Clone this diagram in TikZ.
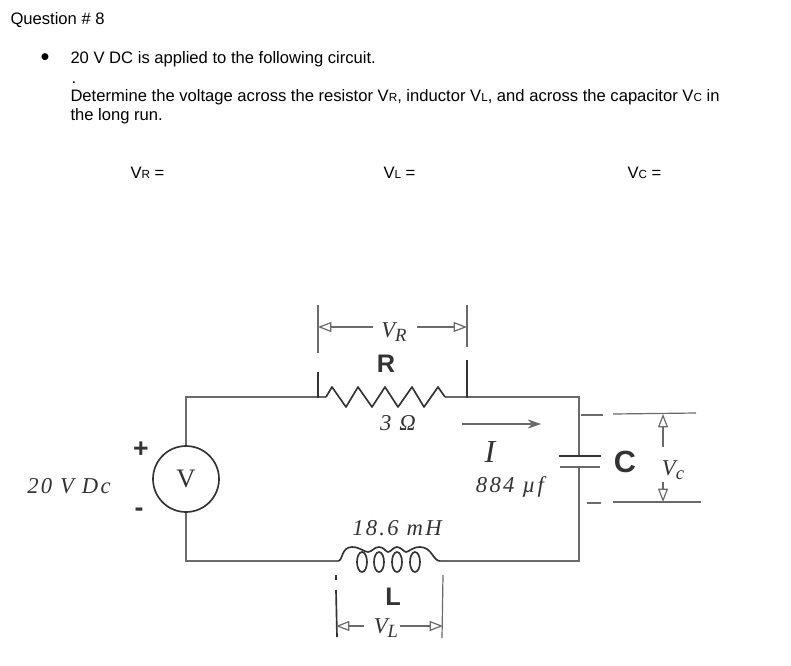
\documentclass[tikz,border=0pt]{standalone}
\usepackage{fontspec}
\usepackage{tikz}
\usepackage{xcolor}
\setmainfont{Liberation Sans}
\newfontfamily\handfont[LetterSpace=10]{Liberation Serif}
\usetikzlibrary{arrows.meta}
\newcommand{\lowsub}[1]{{\fontsize{8.8}{8.8}\selectfont #1}}
\definecolor{wiregray}{HTML}{6A6A6A}
\definecolor{inkgray}{HTML}{333333}
\tikzset{every picture/.style={line width=0.75pt}}
\tikzset{
  prompt/.style={anchor=base west,inner sep=0pt,font=\fontsize{12.45}{14}\selectfont,text=black},
  wire/.style={draw=wiregray,line width=1.3pt},
  part/.style={draw=inkgray,line width=1.25pt,line join=round},
  guide/.style={draw=wiregray,line width=0.9pt},
  dimline/.style={draw=wiregray,line width=0.9pt,-{Triangle[open,length=10pt,width=7.5pt]}},
  hand/.style={inner sep=0pt,text=inkgray,font=\handfont\itshape\fontsize{17}{19}\selectfont},
  partname/.style={inner sep=0pt,text=inkgray,font=\bfseries\fontsize{19}{21}\selectfont}
}

\begin{document}
\begin{tikzpicture}[x=0.75pt,y=0.75pt,yscale=-1,xscale=1]
\useasboundingbox (0,0) rectangle (791,665);

% Text Node
\node (question) [prompt] at (10,24) {Question \# 8};
% Text Node
\node (bullet) [prompt,font=\fontsize{19}{19}\selectfont] at (40,65) {•};
% Text Node
\node (applied) [prompt] at (70,63) {20 V DC is applied to the following circuit.};
% Text Node
\node (stray) [prompt] at (71,83) {.};
% Text Node
\node (determine) [prompt] at (70,101) {Determine the voltage across the resistor V\lowsub{R}, inductor V\lowsub{L}, and across the capacitor V\lowsub{C} in};
% Text Node
\node (longrun) [prompt] at (70,120) {the long run.};
% Text Node
\node (answerr) [prompt] at (130,178) {V\lowsub{R} =};
% Text Node
\node (answerl) [prompt] at (383,178) {V\lowsub{L} =};
% Text Node
\node (answerc) [prompt] at (627,178) {V\lowsub{C} =};

% Source
\node (source) [circle,draw=inkgray,line width=1.25pt,minimum size=66pt*0.75,inner sep=0pt,font=\handfont\fontsize{20}{20}\selectfont,text=inkgray] at (186,479) {V};
% Text Node
\node (plus) [inner sep=0pt,text=inkgray,font=\bfseries\fontsize{20}{20}\selectfont] at (141,450) {+};
% Text Node
\node (minus) [inner sep=0pt,text=inkgray,font=\bfseries\fontsize{20}{20}\selectfont] at (139,512) {-};
% Text Node
\node (supply) [hand] at (69,486) {20 V Dc};

\coordinate (topleft) at (186,397);
\coordinate (resin) at (326,397);
\coordinate (resout) at (445,397);
\coordinate (topright) at (579,397);
\coordinate (capa) at (579,456);
\coordinate (capb) at (579,467);
\coordinate (botright) at (579,561);
\coordinate (indout) at (440,561);
\coordinate (indin) at (338,561);
\coordinate (botleft) at (186,561);

%Straight Lines
\draw [wire] (source.north) -- (topleft) -- (resin);
\draw [wire] (resout) -- (topright) -- (capa);
\draw [wire] (capb) -- (botright) -- (indout);
\draw [wire] (indin) -- (botleft) -- (source.south);

%Resistor
\draw [part] (resin) -- (332,387) -- (346,407) -- (358,387) -- (372,407) -- (385,387) -- (398,407) -- (412,387) -- (424,407) -- (438,387) -- (resout);
% Text Node
\node (vrlabel) [hand] at (394,332) {V\raisebox{-3pt}{\fontsize{14}{14}\selectfont R}};
% Text Node
\node (rname) [partname] at (386,364) {R};
% Text Node
\node (rvalue) [hand] at (398,423) {3 Ω};
\coordinate (rlefttop) at (318,305);
\coordinate (rleftmid) at (318,353);
\coordinate (rleftlow) at (318,372);
\coordinate (rleftend) at (318,398);
\coordinate (rrighttop) at (467,305);
\coordinate (rrightmid) at (467,347);
\coordinate (rrightlow) at (467,360);
\coordinate (rrightend) at (467,398);
\coordinate (rarrowl) at (318,327);
\coordinate (rarrowr) at (467,327);
\coordinate (rarrowla) at (373,327);
\coordinate (rarrowra) at (417,327);
%Straight Lines
\draw [guide] (rlefttop) -- (rleftmid);
\draw [part] (rleftlow) -- (rleftend);
\draw [guide] (rrighttop) -- (rrightmid);
\draw [part] (rrightlow) -- (rrightend);
\draw [dimline] (rarrowla) -- (rarrowl);
\draw [dimline] (rarrowra) -- (rarrowr);

%Current
\coordinate (currenta) at (462,424);
\coordinate (currentb) at (541,424);
\draw [draw=wiregray,line width=0.9pt,-{Stealth[length=10pt,width=7pt]}] (currenta) -- (currentb);
% Text Node
\node (current) [hand,font=\handfont\itshape\fontsize{24}{24}\selectfont] at (490,452) {I};
% Text Node
\node (cvalue) [hand] at (510,487) {884 µf};

%Capacitor
\coordinate (platea) at (559,456);
\coordinate (plateb) at (601,456);
\coordinate (platec) at (560,467);
\coordinate (plated) at (600,467);
\draw [draw=inkgray,line width=1.4pt] (platea) -- (plateb);
\draw [draw=wiregray,line width=1.4pt] (platec) -- (plated);
% Text Node
\node (cname) [partname,font=\bfseries\fontsize{23}{25}\selectfont] at (625,462) {C};
% Text Node
\node (vclabel) [hand] at (673,470) {V\raisebox{-3pt}{\fontsize{14}{14}\selectfont c}};
\coordinate (ctopa) at (581,415);
\coordinate (ctopb) at (603,415);
\coordinate (ctopc) at (613,414);
\coordinate (ctopd) at (696,413);
\coordinate (cbota) at (587,503);
\coordinate (cbotb) at (601,503);
\coordinate (cbotc) at (613,502);
\coordinate (cbotd) at (701,502);
\coordinate (carrowup) at (663,414);
\coordinate (carrowdn) at (663,502);
\coordinate (carrowua) at (663,447);
\coordinate (carrowda) at (663,482);
%Straight Lines
\draw [guide] (ctopa) -- (ctopb);
\draw [guide] (ctopc) -- (ctopd);
\draw [guide] (cbota) -- (cbotb);
\draw [guide] (cbotc) -- (cbotd);
\draw [dimline] (carrowua) -- (carrowup);
\draw [dimline] (carrowda) -- (carrowdn);

%Inductor
\draw [part] (indin) .. controls (343,561) and (341,547) .. (352,547) .. controls (360,547) and (364,552) .. (368,552) .. controls (372,552) and (374,547) .. (379,547) .. controls (384,547) and (386,552) .. (388,552) .. controls (391,552) and (393,547) .. (397,547) .. controls (401,547) and (404,552) .. (406,552) .. controls (409,552) and (412,547) .. (420,547) .. controls (432,547) and (433,561) .. (indout);
\foreach \loopx in {362,379,397,415}
  \draw [part] (\loopx,562) circle [x radius=5, y radius=10];
% Text Node
\node (lvalue) [hand] at (397,528) {18.6 mH};
% Text Node
\node (lname) [partname] at (393,597) {L};
% Text Node
\node (vllabel) [hand] at (386,628) {V\raisebox{-3pt}{\fontsize{14}{14}\selectfont L}};
\coordinate (llefttop) at (336,575);
\coordinate (lleftdot) at (336,580);
\coordinate (lleftmid) at (336,590);
\coordinate (lleftend) at (337,637);
\coordinate (lrighttop) at (443,575);
\coordinate (lrightend) at (442,638);
\coordinate (larrowl) at (336,626);
\coordinate (larrowr) at (443,626);
\coordinate (larrowla) at (364,626);
\coordinate (larrowra) at (400,626);
%Straight Lines
\draw [part] (llefttop) -- (lleftdot);
\draw [part] (lleftmid) -- (lleftend);
\draw [guide] (lrighttop) -- (lrightend);
\draw [dimline] (larrowla) -- (larrowl);
\draw [dimline] (larrowra) -- (larrowr);
\end{tikzpicture}
\end{document}
